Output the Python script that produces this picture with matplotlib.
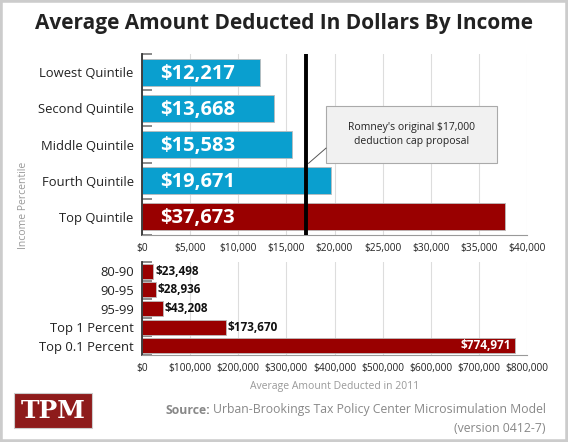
import matplotlib.pyplot as plt
from matplotlib.patches import Rectangle
from matplotlib.ticker import FuncFormatter
import numpy as np

quintiles = ["Lowest Quintile", "Second Quintile", "Middle Quintile", "Fourth Quintile", "Top Quintile"]
quintile_values = [12217, 13668, 15583, 19671, 37673]
top_groups = ["80-90", "90-95", "95-99", "Top 1 Percent", "Top 0.1 Percent"]
top_values = [23498, 28936, 43208, 173670, 774971]
cap = 17000

blue = "#0a9fcf"
red = "#990000"
font = "Open Sans"
plt.rcParams["font.family"] = [font, "DejaVu Sans"]

W, H = 568, 442
fig = plt.figure(figsize=(W / 100, H / 100), dpi=100)


def box(x0, y0, x1, y1):
    # pixel box (top-left origin) -> figure fraction
    return [x0 / W, 1 - y1 / H, (x1 - x0) / W, (y1 - y0) / H]


money = FuncFormatter(lambda v, p: f"${v:,.0f}")


def style(ax, n):
    ax.set_ylim(n - 0.5, -0.5)
    ax.set_yticks(np.arange(n))
    ax.set_yticks(np.arange(n + 1) - 0.5, minor=True)
    ax.tick_params(axis="y", which="major", length=0, pad=6)
    ax.tick_params(axis="y", which="minor", direction="in", length=7, color="#777", width=1.2)
    ax.tick_params(axis="x", length=0, labelsize=7.3, colors="#222", pad=6)
    ax.xaxis.set_major_formatter(money)
    for s in ["top", "right"]:
        ax.spines[s].set_visible(False)
    ax.spines["left"].set_color("#333")
    ax.spines["left"].set_linewidth(1.3)
    ax.spines["bottom"].set_color("#999")
    ax.grid(axis="x", color="#dddddd", lw=0.8)
    ax.set_axisbelow(True)


# top panel
ax1 = fig.add_axes(box(142, 54, 527, 235))
colors = [blue] * 4 + [red]
ax1.barh(range(5), quintile_values, height=0.75, color=colors, edgecolor="#bbbbbb", lw=0.6)
ax1.set_xlim(0, 40000)
ax1.set_xticks(np.arange(0, 40001, 5000))
style(ax1, 5)
ax1.set_yticklabels(quintiles, fontsize=9.4, color="#222")
for i, v in enumerate(quintile_values):
    ax1.text(1900, i + 0.04, f"${v:,}", color="white", fontsize=14.5, fontweight="bold",
             va="center", ha="left")
ax1.axvline(cap, color="black", lw=2.8, zorder=5)
ax1.add_patch(Rectangle((19120, 0.94), 17760, 1.57, facecolor="#f1f1f1",
                        edgecolor="#aaaaaa", lw=0.8, zorder=6))
ax1.text(28000, 1.72, "Romney's original $17,000\ndeduction cap proposal", ha="center",
         va="center", fontsize=7.5, color="#222", zorder=7, linespacing=1.4)
ax1.plot([19120, 17300], [2.1, 2.52], color="#555", lw=0.7, zorder=6)

# bottom panel
ax2 = fig.add_axes(box(142, 262, 527, 355))
ax2.barh(range(5), top_values, height=0.8, color=red, edgecolor="#bbbbbb", lw=0.6)
ax2.set_xlim(0, 800000)
ax2.set_xticks(np.arange(0, 800001, 100000))
style(ax2, 5)
ax2.set_yticklabels(top_groups, fontsize=9.4, color="#222")
for i, v in enumerate(top_values):
    if i == len(top_values) - 1:
        ax2.text(v - 8000, i, f"${v:,}", color="white", fontsize=8.5, fontweight="bold",
                 va="center", ha="right")
    else:
        ax2.text(v + 4000, i, f"${v:,}", color="#111", fontsize=8.5, fontweight="bold",
                 va="center", ha="left")
ax2.set_xlabel("Average Amount Deducted in 2011", fontsize=7.5, color="#999", labelpad=5)

fig.text(0.5, 1 - 23 / H, "Average Amount Deducted In Dollars By Income", ha="center",
         va="center", fontsize=15, fontweight="bold", color="#222")
fig.text(24 / W, 1 - 205 / H, "Income Percentile", rotation=90, ha="center", va="center",
         fontsize=7.5, color="#999")

# logo
fig.patches.append(Rectangle((14 / W, 1 - 428 / H), 78 / W, 35 / H, transform=fig.transFigure,
                             facecolor="#8e1b1b", edgecolor="#cccccc", lw=0.8))
fig.text(53 / W, 1 - 411 / H, "TPM", ha="center", va="center", fontsize=18,
         fontweight="bold", color="white", family="DejaVu Serif")

src = fig.text(546 / W, 1 - 410 / H, "Urban-Brookings Tax Policy Center Microsimulation Model",
               ha="right", va="center", fontsize=8.8, color="#888")
fig.canvas.draw()
bb = src.get_window_extent()
fig.text(bb.x0 / W - 0.004, 1 - 410 / H, "Source:", ha="right", va="center", fontsize=8.8,
         color="#888", fontweight="bold")
fig.text(546 / W, 1 - 428 / H, "(version 0412-7)", ha="right", va="center", fontsize=8.8,
         color="#888")

# frame
fig.patches.append(Rectangle((0, 0), 1, 1, transform=fig.transFigure, fill=False,
                             edgecolor="#cccccc", lw=4))

fig.savefig("out.png", dpi=100)
